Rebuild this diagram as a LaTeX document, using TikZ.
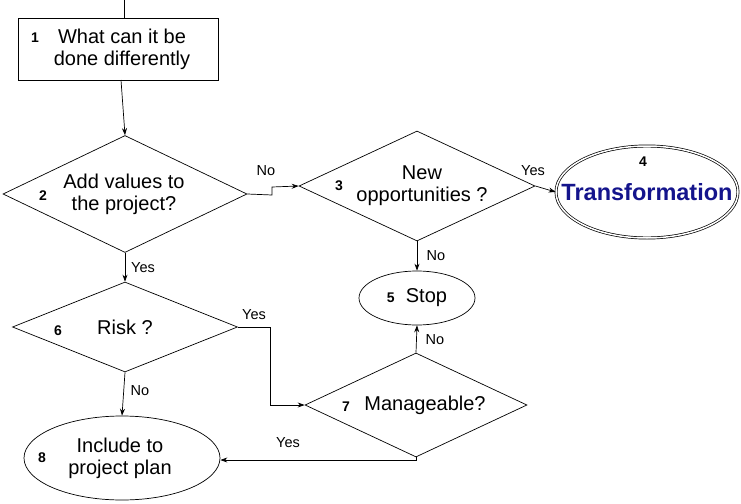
\documentclass[tikz,border=0pt]{standalone}
\usepackage{fontspec}
\setmainfont{Liberation Sans}
\usetikzlibrary{shapes.geometric,arrows.meta}
\begin{document}
\begin{tikzpicture}[x=1pt,y=-1pt,
  dia/.style={draw,diamond,inner sep=0pt,line width=0.7pt},
  ell/.style={draw,ellipse,inner sep=0pt,line width=0.7pt},
  txt/.style={font=\fontsize{20}{22}\selectfont,align=center},
  num/.style={font=\bfseries\fontsize{14}{16}\selectfont},
  lab/.style={font=\fontsize{14.5}{16}\selectfont},
  arr/.style={-{Stealth[length=7pt,width=5pt]},line width=0.7pt},
  ln/.style={line width=0.7pt}]
\useasboundingbox (0,0) rectangle (741,503);
\coordinate (top) at (124,0);
\node[draw,line width=0.7pt,minimum width=200,minimum height=62] (b1) at (118,49) {};
\node[num] (n1) at (35,38) {1};
\node[txt] (t1) at (122,49) {What can it be\\done differently};
\node[dia,minimum width=244,minimum height=117] (d2) at (125,194) {};
\node[num] (n2) at (43,196) {2};
\node[txt] (t2) at (124,194) {Add values to\\the project?};
\node[dia,minimum width=236,minimum height=110] (d3) at (417,186) {};
\node[num] (n3) at (339,186) {3};
\node[txt] (t3) at (422,186) {New\\opportunities ?};
\node[ell,double,double distance=1.5pt,minimum width=182,minimum height=92] (e4) at (647,192) {};
\node[num] (n4) at (643,162) {4};
\node[font=\bfseries\fontsize{23.5}{26}\selectfont,text={rgb,255:red,20;green,20;blue,140}] (t4) at (647,192) {Transformation};
\node[ell,minimum width=116,minimum height=54] (e5) at (417,298) {};
\node[txt] (t5) at (417,298) {\textbf{\fontsize{14}{16}\selectfont 5}\ \ Stop};
\node[dia,minimum width=225,minimum height=90] (d6) at (125,327) {};
\node[num] (n6) at (58,331) {6};
\node[txt] (t6) at (125,327) {Risk ?};
\node[dia,minimum width=222,minimum height=104] (d7) at (416,405) {};
\node[num] (n7) at (346,407) {7};
\node[txt] (t7) at (425,405) {Manageable?};
\node[ell,minimum width=196,minimum height=84] (e8) at (122,458) {};
\node[num] (n8) at (42,458) {8};
\node[txt] (t8) at (120,458) {Include to\\project plan};

\draw[ln] (top) -- (b1.north -| top);
\draw[arr] (121,80) -- (d2.north);
\draw[arr] (d2.east) -- (272,195) -- (272,187) -- (d3.west);
\node[lab] (l1) at (266,171) {No};
\draw[arr] (d3.east) -- (e4.west);
\node[lab] (l2) at (533,171) {Yes};
\draw[arr] (d3.south) -- (e5.north);
\node[lab] (l3) at (436,256) {No};
\draw[arr] (d2.south) -- (d6.north);
\node[lab] (l4) at (143,268) {Yes};
\draw[arr] (d6.east) -- (270,327) -- (270,405) -- (d7.west);
\node[lab] (l5) at (254,315) {Yes};
\draw[arr] (d7.north) -- (e5.south);
\node[lab] (l6) at (435,340) {No};
\draw[arr] (d6.south) -- (e8.north);
\node[lab] (l7) at (140,391) {No};
\draw[arr] (d7.south) -- (416,460) -- (e8.east |- 0,460);
\node[lab] (l8) at (288,443) {Yes};
\end{tikzpicture}
\end{document}
